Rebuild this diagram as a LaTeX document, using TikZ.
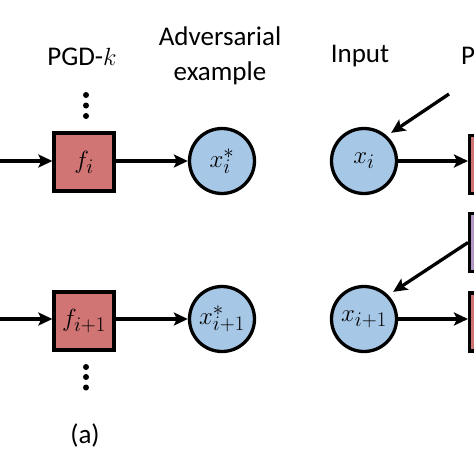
\documentclass[tikz,border=0pt]{standalone}
\usepackage{fontspec}
\setmainfont{Carlito}
\usetikzlibrary{arrows.meta}
\definecolor{boxred}{HTML}{D07474}
\definecolor{nodeblue}{HTML}{A7C7E7}
\definecolor{boxpurple}{HTML}{B598C6}
\begin{document}
\begin{tikzpicture}[x=1pt,y=-1pt,
  fbox/.style={draw=black,line width=3.3pt,fill=boxred,minimum width=60pt,minimum height=58pt,inner sep=0pt,font=\fontsize{32}{34}\selectfont},
  pbox/.style={fbox,fill=boxpurple},
  xnode/.style={draw=black,line width=3.3pt,fill=nodeblue,circle,minimum size=65pt,inner sep=0pt,font=\fontsize{32}{34}\selectfont},
  lbl/.style={font=\fontsize{27}{35}\selectfont,align=center,inner sep=0pt},
  conn/.style={line width=3.3pt,-{Stealth[length=14pt,width=13pt,inset=3pt]}},
  dotc/.style={fill=black}]
\useasboundingbox (0,0) rectangle (474,474);
\clip (0,0) rectangle (474,474);
% left part
\node[fbox] (f1) at (84,162) {$f_i$};
\node[fbox] (f2) at (84,321) {$f_{i+1}$};
\node[xnode] (a1) at (222,161) {$x_i^*$};
\node[xnode] (a2) at (222,319) {$x_{i+1}^*$};
\coordinate (in1) at (-20,161);
\coordinate (in2) at (-20,319);
\draw[conn] (in1) -- (f1.west |- in1);
\draw[conn] (in2) -- (f2.west |- in2);
\draw[conn] (f1.east |- a1) -- (a1);
\draw[conn] (f2.east |- a2) -- (a2);
\foreach \y in {95,105.5,116,367,377,387.5} \fill[dotc] (86,\y) circle (3pt);
\node[lbl] (pgd) at (82,57) {PGD-$k$};
\node[lbl] (adv) at (220,56) {Adversarial\\example};
\node[lbl] (alab) at (85,435) {(a)};
% right part
\node[xnode] (b1) at (364,161) {$x_i$};
\node[xnode] (b2) at (364,319) {$x_{i+1}$};
\node[fbox,anchor=west] (r1) at (468,164.5) {};
\node[pbox,anchor=west] (p1) at (468,242.5) {};
\node[fbox,anchor=west] (r2) at (468,322) {};
\node[lbl] (inp) at (360,56) {Input};
\node[lbl,anchor=west] (plab) at (461,56) {P};
\coordinate (s1) at (449,94);
\draw[conn] (s1) -- ([shift={(3,-4)}]b1.north east);
\draw[conn] (b1) -- (r1.west |- b1);
\draw[conn] (b2) -- (r2.west |- b2);
\draw[conn] (p1.west) -- ([shift={(5,-3)}]b2.north east);
\end{tikzpicture}
\end{document}
